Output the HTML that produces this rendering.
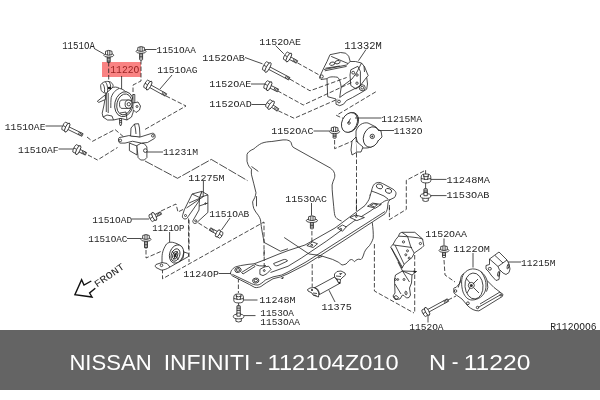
<!DOCTYPE html>
<html><head><meta charset="utf-8"><style>
html,body{margin:0;padding:0;background:#fff;}
body{width:600px;height:400px;overflow:hidden;position:relative;}
svg{position:absolute;left:0;top:0;will-change:transform;}
.s{fill:none;stroke:#1e1e1e;stroke-width:0.8;stroke-linejoin:round;}
.f{fill:#fff;}
.d{fill:none;stroke:#1e1e1e;stroke-width:0.8;stroke-dasharray:4.5 2;}
.dl{fill:none;stroke:#1e1e1e;stroke-width:0.8;stroke-dasharray:9 1.6;}
text{font-family:"Liberation Mono",monospace;}
text.sans{font-family:"Liberation Sans",sans-serif;}
#bar{position:absolute;left:0;top:330px;width:600px;height:60px;background:#646464;}
#bar span{position:absolute;top:0;font-family:"Liberation Sans",sans-serif;color:#fff;font-size:22px;line-height:60px;white-space:pre;}
</style></head><body>
<svg width="600" height="330" viewBox="0 0 600 330">
<rect x="102" y="62" width="39" height="15" fill="#f98383"/>
<polyline class="d" points="108.7,62.0 108.7,82.0"/>
<polyline class="d" points="141.0,60.0 141.0,81.0 133.0,85.0 133.0,96.0"/>
<polyline class="d" points="166.0,96.0 186.0,106.0 144.0,130.0"/>
<polyline class="d" points="87.0,137.0 92.5,141.3 115.0,129.5 125.0,138.0"/>
<polyline class="d" points="88.0,155.0 97.5,160.0 117.5,147.5"/>
<polyline class="d" points="375.8,91.8 336.4,115.4 344.3,118.9"/>
<polyline class="d" points="334.6,140.0 334.6,148.7 353.0,140.8"/>
<polyline class="d" points="356.5,153.0 356.5,211.0"/>
<polyline class="d" points="424.0,171.0 406.3,180.3 406.3,209.4 389.4,219.7 389.4,207.5"/>
<polyline class="d" points="161.0,211.0 176.0,204.0 178.0,212.0 184.0,209.0"/>
<polyline class="d" points="146.0,250.0 146.0,258.0 162.0,251.0"/>
<polyline class="d" points="189.0,220.0 189.0,262.0"/>
<polyline class="d" points="162.5,268.8 162.5,278.8 264.0,222.0 264.0,256.0"/>
<polyline class="d" points="188.6,218.5 188.6,250.0"/>
<polyline class="d" points="198.3,222.9 212.3,231.7"/>
<polyline class="d" points="238.4,278.0 238.4,293.0"/>
<polyline class="d" points="312.2,264.0 312.2,287.0"/>
<polyline class="d" points="374.4,244.0 374.4,291.0 414.0,313.0"/>
<polyline class="d" points="414.7,255.0 414.7,312.0"/>
<polyline class="d" points="444.0,260.0 445.0,275.0 455.0,282.0"/>
<polyline class="d" points="448.0,300.0 456.0,296.0"/>
<path class="s" d="M247,161.3 L247,154.5 C247.5,152.5 250,150.5 253.8,148.9 C256,147 259,144.5 261.6,143.3 C265,142 268,141.7 271.8,141.5 L283,139.9 L286.4,139.9 C288.5,140.3 290.2,141 290.9,142.1 L292,145.5 L293.2,147.3 L330.3,168 C332.3,169.5 333.8,171 334.5,173.5 C335,175.5 334.8,177 334.3,178.5 C333.5,180.5 332.5,182.5 332.1,184.9 C332,188 332.3,191.5 332.6,195 L333.7,206.3 C334,210 334.3,213 334.8,215.3 C335.3,216.8 336,218 337.1,218.7 C338.5,219.8 340,220.5 341.6,221"/>
<path class="s" d="M247,161.3 C247.5,163.5 248.3,165.5 249.3,166.9 L251.5,169.2 C251.3,171 251.2,173 251.5,174.8 L253.8,183.8 L256,192.8 C255.7,194.5 255.4,196 254.9,197.3 L252.6,201.8 C252.8,204.5 253.2,206.7 253.8,208.6 C255,211 256.5,213.2 258.3,215.3 C259.3,216.8 260,218.3 260.5,219.8 C261,225 262,232 264.25,242.5 L280.5,251.25 L288,248.75"/>
<path class="s" d="M251.5,166.5 L258.3,171.4"/>
<path class="s" d="M256.5,196.2 L256.5,206.3"/>
<path class="dl" d="M145,161 L177.5,178.3 L211.25,159.4 L247.5,180.6"/>
<path class="s" d="M369.4,195 C372,197 374,198.5 377,199.7"/>
<path class="s" d="M372.2,222.2 C373,228 373.5,234 373.2,238.2 C372,242 370.5,244 369.4,245.7 C366,249 364.5,251 363.5,255 C362.5,258 361.5,259.5 360.5,259.5 C358,258.5 356,260 354.5,261.7 C353,260 352,259.5 351.5,259.5 C349,259.5 348,262.5 347,263 L346,264 C344.5,264.5 343,265 342,265 C340,263.5 339,262.5 338,262 L332.5,259.4 L322.5,256.25 L318,258"/>
<path class="s f" d="M230.5,273.1 C231,271 231.5,270 232.4,269.4 C233.5,268 234.5,267.3 235.5,266.9 L240.5,265.6 L248,264.4 L254.25,263.75 L264.25,260 L278,254.4 L288,250.6 L305,245 L335,228 L351,216 L365,205.5 C367.5,202 369,200 369.5,198 L371.5,191 C372.3,187.5 373,185.5 374.5,184 C376,182.8 378,182.2 380,182.5 L382.5,183.5 L393,189.2 C395,190.6 396.2,192.2 396,193.7 C395.8,195.5 395,196.8 394.5,197.5 L390,199.7 C389,200.8 388.2,202 388,203 L387.5,208 C387,210.5 386.2,212.3 385,213.75 L372.5,221.9 L340,243.1 L306.25,264.4 L288,273.75 L280.5,276.9 L273,278.75 L266.75,282.5 L263,285 C261.5,286.3 260,287.1 258.6,287.25 C257.3,287.6 256,287.7 254.9,287.5 L249.25,284.4 L240.5,280 L233,276.25 C231.5,275.3 230.6,274.3 230.5,273.1 Z"/>
<path class="s" d="M232.4,274.4 L249.25,282.5 C252,284 255,285.3 258,285 C260.5,284.5 263,282 265.5,280 L273,276.9 L281.75,275 L288,272 L306,262 L372.5,219.5 L385,211.5"/>
<path class="s" d="M254.25,263.75 C257,266 262,266.5 266,265.5"/>
<path class="s" d="M270.5,272.5 L288,266.25 L301.25,258.1 L326.25,241.25 L353.75,221.25 L370,211.25 L382.5,202.5 C385,200.5 387.5,200 390,199.7"/>
<path class="s" d="M371.5,191 L377,193 L384,196 L388,199"/>
<ellipse class="s f" cx="238" cy="270" rx="3.2" ry="2.5" transform="rotate(-10 238 270)"/>
<ellipse class="s" cx="238" cy="270" rx="1.8" ry="1.3" transform="rotate(-10 238 270)"/>
<ellipse class="s f" cx="255.75" cy="280.6" rx="3.2" ry="2.5" transform="rotate(-10 255.75 280.6)"/>
<ellipse class="s" cx="255.75" cy="280.6" rx="1.8" ry="1.3" transform="rotate(-10 255.75 280.6)"/>
<path class="s f" d="M241.5,272.5 L253.5,265 L255,266.5 L243,274 Z"/>
<path class="s f" d="M259.9,269.4 L264.25,266.9 L268.6,266.25 L271.1,269.4 L266.75,273.75 L263,275.6 L259.9,274.4 Z"/>
<circle class="s f" cx="264.25" cy="270.6" r="0.9"/>
<path class="s f" d="M273.6,263.5 L283,259.8 C285,259 287,259.5 287.5,261 L278,265.5 C276,266.3 274,265.5 273.6,263.5 Z"/>
<path class="s f" d="M306.9,245.6 L312.5,241.9 L317.5,243.75 L313.1,247.5 Z"/>
<circle class="s f" cx="311.7" cy="245.3" r="0.9"/>
<path class="s f" d="M337.5,228.1 L342.5,225 L346.25,226.9 L342.5,231.25 Z"/>
<circle class="s f" cx="340.8" cy="229.2" r="0.9"/>
<path class="s f" d="M350,217.5 L355.6,215 L364.4,217.5 L356.9,220.6 Z"/>
<circle class="s f" cx="356.25" cy="216.5" r="0.9"/>
<path class="s f" d="M367.5,206.25 L372.5,203.1 L381.25,204.4 L375.6,208.1 Z"/>
<path class="s f" d="M370.5,205.6 L373.5,203.8 L377.5,204.6 L374.6,206.8 Z"/>
<ellipse class="s f" cx="379.5" cy="186.4" rx="3.2" ry="2.3" transform="rotate(20 379.5 186.4)"/>
<ellipse class="s f" cx="388.5" cy="190.9" rx="3.2" ry="2.3" transform="rotate(20 388.5 190.9)"/>
<path class="s" d="M284.2,237.5 L298.5,247 L309,254 L318.3,255.2 L322.5,256.25"/>
<path d="M280.5,278.3 L283.8,276.8 L283,279 Z" fill="#1e1e1e"/>
<path class="s f" d="M106,93 L111,88 C114,86.8 117,86.6 119.8,88.5 C122,89 124,90 125.5,91.5 L130,94.5 C132.5,97 134,101 133.8,106 L133.2,112 L131.5,117 L127,120 L122.5,118.8 L120.2,118.5 L113.5,120 L107.5,120 L103,117 L102.2,113.2 L104,105 Z"/>
<path class="s" d="M119,88.5 C116,90 113,92 111.2,97.5 C110.8,101 110.8,104 110.8,108"/>
<path class="s" d="M106.3,93 L106.3,112 M108.2,93 L108.2,113"/>
<ellipse class="s f" cx="124" cy="104.2" rx="9.2" ry="12.6" transform="rotate(12 124 104.2)"/>
<ellipse class="s" cx="124.3" cy="104.4" rx="7.4" ry="10.6" transform="rotate(12 124.3 104.4)"/>
<path class="s f" d="M122,100 L128.5,100 A3.6,4.2 0 0 1 128.5,108.4 L122,108.4 A2.5,4.2 0 0 1 122,100 Z"/>
<ellipse class="s f" cx="128.5" cy="104.2" rx="3.4" ry="4.1" transform="rotate(0 128.5 104.2)"/>
<circle class="s f" cx="128.8" cy="104.2" r="1.7"/>
<path class="s" d="M103,117 L107,115 L112,116 L113.5,120 M120,113 L126,112 L127,120"/>
<path class="s f" d="M119.6,118.5 L119.6,124 L120.6,126 L121.6,124 L121.6,118.5 Z"/>
<path class="s" d="M119.6,120.5 L121.6,120.5 M119.6,122.3 L121.6,122.3"/>
<path class="s f" d="M100.6,85.5 C101,84 101.5,83.5 102.5,82.9 C104,81.8 106,81.3 107.8,81.4 C110,81.5 111.5,82.3 111.9,83.3 C113,84.5 113.3,85.5 113,86.3 C112.8,87 112.5,87.7 111.9,88.2 L106.3,93 C104.5,93 103,92.6 102.5,91.9 C101.5,91 101,90 101,89.3 Z"/>
<path class="s" d="M102.5,83.5 C104,85 105,88 104.5,92 M105.5,82 C107,84 108,87 107.5,92.5 M108.8,81.6 C110.5,83.5 111,86 110.5,89.5"/>
<ellipse cx="109.5" cy="88" rx="1.8" ry="1.3" fill="#1e1e1e"/>
<path class="s f" d="M97.3,101.3 L105.2,94.9 L105.5,99.4 L98.8,102.4 Z"/>
<path class="s f" d="M133,94.5 L134.8,94.5 L134.8,103 L133,103 Z"/>
<path class="s f" d="M133.5,103 L138,102 L140.5,106 L139.5,110 L136,112.5 L133.5,110"/>
<circle class="s" cx="137" cy="106.5" r="1"/>
<path class="s f" d="M129.4,143.1 L129.4,150.6 L137,155 L137,146 Z"/>
<path class="s f" d="M136.9,145.6 L138.1,157.5 L140.6,160 L144.4,160 L146.9,157.5 L146.9,146.9 L144.4,143.75 L141.25,143.1 Z"/>
<circle class="s f" cx="145.3" cy="150.6" r="1.8"/>
<path class="s f" d="M118.5,140 C118,138 119.5,137 121,137.3 L128.75,135.6 L140.6,136.9 L151.25,133.5 C153,132.8 155,133.5 155,135.6 C155.5,137 154.8,138.2 154.4,138.5 L147.5,142.5 L141.25,143.1 L132.5,141.25 L125,143.1 L120,143.1 C118.8,142.5 118.4,141.2 118.5,140 Z"/>
<circle class="s" cx="120.3" cy="140.4" r="1.3"/>
<circle class="s" cx="152.8" cy="135.8" r="1.3"/>
<path class="s f" d="M130.6,136 L131,128 L134.5,124 L138.5,123.7 L139.5,128 L140,137 Z"/>
<path class="s" d="M134.5,124 L135.5,129 L136,134"/>
<path class="s f" d="M330,54.7 L340.5,52.5 L345.7,53.2 L348.7,56.2 L350.2,61.5 L355.5,61.5 L361.5,63 L364.5,66.7 L366.7,72 L368.2,75.7 L366.7,77.2 L367.5,84 L366.7,89.2 L363,91.5 L352.5,97.5 L346.5,100.5 L343.5,104.2 L339.7,105.7 L336,104.2 L336,99 L327.7,96.7 L327,78.7 L321,79.5 L319.5,78 L320.2,75.7 L324,67.5 L327,61.5 Z"/>
<path class="s" d="M324,69.5 L346.6,65 L350.2,61.5"/>
<path class="s" d="M324.8,70.8 L346.6,66.4"/>
<path class="s" d="M325.5,68.2 L339.8,66"/>
<path class="s" d="M331.2,56.4 L348,63.5"/>
<path class="s" d="M327,78.7 C329,76.8 331.5,76.5 337.5,77.2 C339.5,79 340.5,82 341.2,87 L339.7,97.5"/>
<path class="s" d="M341.2,87 L352,79 L357,72 L361.5,63"/>
<path class="s" d="M339.7,97.5 L346,93 L360,86 L366.7,77.2"/>
<ellipse class="s" cx="332.2" cy="63.7" rx="2.6" ry="1.6" transform="rotate(-15 332.2 63.7)"/>
<ellipse class="s" cx="337.5" cy="62.2" rx="2.6" ry="1.6" transform="rotate(-15 337.5 62.2)"/>
<circle class="s" cx="321.7" cy="76.5" r="1.6"/>
<circle class="s" cx="353.2" cy="72.7" r="1.4"/>
<circle class="s" cx="357" cy="75" r="1.2"/>
<circle class="s" cx="357" cy="83.2" r="1.2"/>
<circle class="s" cx="362.2" cy="87.7" r="3"/>
<circle class="s" cx="362.2" cy="87.7" r="1.4"/>
<circle class="s" cx="339" cy="101.5" r="1.4"/>
<path class="s" d="M364,66 L364.5,72"/>
<path class="s" d="M350.8,69.8 L357.8,66.3 L360.4,71.5 L360.4,85.5 L356,89 L350.8,85.5 L350,75 Z"/>
<ellipse class="s f" cx="350.5" cy="122.3" rx="7.5" ry="10.3" transform="rotate(25 350.5 122.3)"/>
<ellipse class="s f" cx="349.5" cy="122.5" rx="7.5" ry="10.3" transform="rotate(25 349.5 122.5)"/>
<circle class="s" cx="349" cy="123" r="1.3"/>
<path class="s" d="M348,123 L350.5,118.5"/>
<path class="s f" d="M356,131 C358,125 363,122 368,123 L376,127 C379,130 380,135 378,140 C376,145 371,148 366,148 L362,148 C359,146 357,142 356,137 Z"/>
<ellipse class="s f" cx="371.4" cy="137" rx="7.8" ry="10.5" transform="rotate(20 371.4 137)"/>
<circle class="s" cx="372.3" cy="136.4" r="2.2"/>
<circle cx="372.3" cy="136.4" r="1" fill="#333"/>
<path class="s f" d="M377,129 L381,131 L382,137 L378,141"/>
<path class="s f" d="M352,141 L356,137 L357,152 L352,155 L351,150 Z"/>
<path class="s f" d="M356,141 L363,147 L361,152 L357,152"/>
<path class="s f" d="M201.8,191.4 L207.9,194.9 L207.9,212.4 L196.5,222.9 C195.5,223.8 194,223.8 193.2,222.6 C192.6,221.6 192.8,220.8 193.3,220 L199,210 L199.5,197.5 Z"/>
<path class="s f" d="M192.1,194 L201.8,191.4 L199.5,197.5 L199,201 L188.2,216.5 C187.3,218.6 185.5,219.6 183.6,218.7 C182.3,217.8 182.1,216 182.8,214.5 L184.3,209.8 Z"/>
<path class="s" d="M192.1,194 L199.5,197.5 L207.9,194.9"/>
<path class="s" d="M186.5,208 L203.5,196.5 M189,203 L199.3,198.5 M199.3,206 L207.9,203"/>
<path class="s" d="M203.2,192.5 L203.2,196.5"/>
<circle class="s" cx="185.5" cy="215.5" r="1"/>
<circle class="s" cx="195.7" cy="220.8" r="1"/>
<circle class="s" cx="205.5" cy="203.5" r="0.7"/>
<path class="s f" d="M156,264.5 L162,262.5 L162,259 C162,254 162.5,250 166.5,244 C168,242.8 169.5,242.2 171,242.2 C173,242.2 176,243 179.5,245 L184,252 L188.5,253.5 L188.5,256.5 L170,267 C167,269 163,270.5 161,270 L156,267.5 C155,266.5 155,265.5 156,264.5 Z"/>
<ellipse class="s f" cx="176.5" cy="254" rx="6.8" ry="9.4" transform="rotate(20 176.5 254)"/>
<ellipse class="s" cx="175.5" cy="255" rx="4.2" ry="6.4" transform="rotate(20 175.5 255)"/>
<ellipse class="s" cx="175.2" cy="255.3" rx="2.4" ry="4" transform="rotate(20 175.2 255.3)"/>
<ellipse cx="175.2" cy="255.3" rx="1.2" ry="2.4" transform="rotate(20 175.2 255.3)" fill="#333"/>
<path class="s" d="M172,251 L178.5,259.5 M173.5,259.5 L177.5,251"/>
<path class="s" d="M162,262.5 L167,263.5 L170,267"/>
<circle class="s" cx="161.5" cy="265.3" r="1.3"/>
<path class="s" d="M179,262 L183,258.5 L184,252"/>
<path class="s f" d="M315,287.5 L334.5,277 L339.5,283.5 L319.5,294.5 Z"/>
<path class="s f" d="M307.5,289.5 L310,288 L314,287.5 L317.5,289 L319,292 L318.5,297 L317,296.5 L313,295 L312,293 L308,291 Z"/>
<path class="s" d="M314,287.5 C316.5,288.5 318.5,291 319.5,294.5"/>
<path class="s" d="M313,293 L317,293.5 M313.5,295 L316.5,295.5"/>
<circle cx="312" cy="290" r="1" fill="#1e1e1e"/>
<path class="s f" d="M334.5,274 L337,271.5 L341,271 L345,273 L345.5,275 L343,277 L340.5,279.5 L340,283.5 L338.5,283 L337,279 L334.5,277 Z"/>
<path class="s" d="M337,279 L340.5,279.5 M336,276 L341,276.5"/>
<path d="M339,273.5 L342.5,273 L340.5,275 Z" fill="#1e1e1e"/>
<circle cx="339.5" cy="283" r="0.9" fill="#1e1e1e"/>
<path class="s f" d="M399.6,233.4 L401.9,232.3 L414.8,232.3 L422.6,239 L423.8,245.8 L422.1,247.5 L414.2,253.1 L412,257.6 L409.2,259.8 L404.1,264.3 L401.9,268.3 L390.6,246.9 L392.9,244.7 L395.7,239.6 L398.5,236.2 Z"/>
<path class="s" d="M392.9,244.7 L395.1,245.2 L412,247.5"/>
<path class="s" d="M398.5,236.2 L409.7,236.8 L418.7,237.9 L422.6,239"/>
<path class="s" d="M401.9,232.3 L407.5,236.2 L410.8,246.9 L414.2,253.1"/>
<path class="s" d="M395.1,245.2 L404.1,264.3"/>
<path class="s" d="M391.5,248 L402.5,267.5"/>
<circle class="s" cx="403.5" cy="241.9" r="1.1"/>
<circle class="s" cx="420.4" cy="243.5" r="1.1"/>
<circle class="s" cx="407.5" cy="250.8" r="1"/>
<circle class="s" cx="405.8" cy="254.8" r="1"/>
<circle class="s" cx="409.2" cy="258.1" r="1"/>
<path class="s f" d="M395.5,275 L402.5,271 L416.5,271.5 L412,275 L411.5,283 L409.5,288 L410.5,295 L409,297.5 L406.5,298 L404,295.5 L402.5,295 L400,299 L395,299.5 L393,296 L395,293 L394.5,279.5 Z"/>
<path class="s" d="M402.5,271 L412,275 M402.5,271 L409.5,282 M395,284 L401,294"/>
<path d="M413.5,270.5 L416.8,271.5 L413.8,273.2 Z" fill="#1e1e1e"/>
<circle class="s" cx="395.5" cy="279.5" r="0.9"/>
<circle class="s" cx="397.8" cy="279.5" r="0.9"/>
<circle class="s" cx="404" cy="279.5" r="1"/>
<ellipse class="s" cx="406" cy="293" rx="1" ry="1.8" transform="rotate(-10 406 293)"/>
<path class="s" d="M393.5,297 L396,295.5 L398.5,297.5 L397,299.5 Z"/>
<path class="s" d="M398,262 L402.5,271"/>
<path class="s f" d="M454,290 C453,288.5 454,287.5 456,287.5 L460,283 L461,277 C462,274.5 463,274 463.75,273.75 C466,271 469,269 472.7,268.9 C476,268.9 479,270 481,271.7 C484,274 486,277 487.1,280.6 L494,287.5 L503,294.4 L502.3,296.5 L478.9,310.9 C475,311 471,309 467.9,306 L462,299 L455,294 C453.5,293 453.5,291.5 454,290 Z"/>
<path class="s" d="M463.75,273.75 C461,278 461,285 463,292 C465,297 468,300 472,300 C478,300 484,296 485.5,290 C487,283 485,277 481,271.7"/>
<ellipse class="s" cx="474" cy="286" rx="9" ry="13" transform="rotate(-5 474 286)"/>
<circle class="s f" cx="471.3" cy="285.4" r="3"/>
<circle cx="471.3" cy="285.4" r="1.5" fill="#333"/>
<path class="s" d="M466,278 L470,283 M478,279 L473,284 M467,293 L470,288 M479,293 L474,288"/>
<path class="s" d="M487.1,280.6 L487.8,287.5 L486.5,291.6"/>
<path class="s" d="M480,304 L500,292 M478,307.5 L500.5,294.8"/>
<circle class="s" cx="455.5" cy="291" r="1.3"/>
<circle class="s" cx="467.9" cy="303.3" r="1.4"/>
<circle class="s" cx="477.5" cy="307.5" r="1.2"/>
<circle class="s" cx="500.9" cy="295" r="1"/>
<path class="s" d="M460.3,280.6 L458.25,287.5"/>
<path class="s f" d="M489.5,259 L499,252 L507,260 L509,264 L510,269 L509,272.5 L506,274.5 L503,273 L500,270 L499.5,275 L499,279.5 L496,280.5 L491,275 L489,272 L486,269 L486,265.5 L489.5,264.5 Z"/>
<path class="s" d="M489.5,259 L498,266.5 L507,260"/>
<path class="s" d="M495,255.5 L503,263"/>
<path class="s" d="M498,266.5 L499.5,270"/>
<ellipse class="s" cx="489.8" cy="268.8" rx="1.6" ry="1.4" transform="rotate(0 489.8 268.8)"/>
<ellipse class="s" cx="498.5" cy="274" rx="0.8" ry="2.5" transform="rotate(10 498.5 274)"/>
<ellipse class="s" cx="508" cy="266.5" rx="0.8" ry="2.5" transform="rotate(10 508 266.5)"/>
<polyline points="91.3,281 84,285 81.6,279.7 74.9,294.7 92,297 89.6,293 95.3,288.3" fill="none" stroke="#111" stroke-width="1.4" stroke-linejoin="miter"/>
<polyline class="d" points="297.5,62.9 319.4,75.1"/>
<polyline class="d" points="290.0,79.2 310.0,90.8 346.7,77.5"/>
<polyline class="d" points="277.5,90.8 303.3,105.0 353.3,81.7"/>
<polyline class="d" points="278.3,110.8 294.2,118.3 338.0,99.0"/>
<polyline class="d" points="264.2,250.0 264.2,270.0"/>
<polyline class="d" points="311.9,231.0 311.9,245.0"/>
<polyline class="d" points="356.4,200.0 356.4,216.0"/>
<polyline class="d" points="389.4,205.0 389.4,212.0"/>
<polyline class="s" points="94.5,48.7 104.0,54.0"/>
<polyline class="s" points="145.0,49.5 156.5,49.5"/>
<polyline class="s" points="160.0,89.0 172.0,75.0"/>
<polyline class="s" points="45.5,126.0 62.0,126.0"/>
<polyline class="s" points="58.5,149.0 74.0,149.0"/>
<polyline class="s" points="146.4,152.0 163.0,152.0"/>
<polyline class="s" points="275.6,45.6 283.8,53.8"/>
<polyline class="s" points="245.0,57.5 255.0,61.2 262.5,63.8"/>
<polyline class="s" points="251.0,84.0 265.0,84.0"/>
<polyline class="s" points="251.5,104.5 267.0,104.5"/>
<polyline class="s" points="366.0,49.5 358.5,60.7"/>
<polyline class="s" points="313.5,131.0 330.0,131.0"/>
<polyline class="s" points="355.0,118.0 381.5,118.0"/>
<polyline class="s" points="378.0,130.5 394.0,130.5"/>
<polyline class="s" points="430.9,179.4 446.5,179.4"/>
<polyline class="s" points="425.6,183.0 425.6,188.6"/>
<polyline class="s" points="425.6,170.2 425.6,174.0"/>
<polyline class="s" points="238.6,303.0 238.6,305.5"/>
<polyline class="s" points="431.0,195.6 446.5,195.6"/>
<polyline class="s" points="203.4,181.0 203.4,192.3"/>
<polyline class="s" points="311.5,203.0 311.5,215.5"/>
<polyline class="s" points="131.6,219.0 149.0,219.0"/>
<polyline class="s" points="230.0,218.0 221.5,230.0"/>
<polyline class="s" points="169.6,232.0 169.6,242.0"/>
<polyline class="s" points="127.0,238.5 141.0,238.5"/>
<polyline class="s" points="218.8,273.5 231.0,273.5"/>
<polyline class="s" points="243.0,300.0 257.5,300.0"/>
<polyline class="s" points="244.0,315.6 255.5,315.6"/>
<polyline class="s" points="335.0,302.0 329.0,290.2"/>
<polyline class="s" points="444.0,238.5 444.0,245.0"/>
<polyline class="s" points="473.0,253.0 473.0,267.5"/>
<polyline class="s" points="508.0,262.0 521.0,262.0"/>
<polyline class="s" points="428.0,316.0 428.0,322.5"/>
<polyline class="s" points="121.6,76.0 121.6,89.0"/>
<rect class="s f" x="107.2" y="54.6" width="3" height="7.9" rx="0.6"/><line class="s" x1="107.2" y1="57.2" x2="110.2" y2="57.2"/><line class="s" x1="107.2" y1="58.7" x2="110.2" y2="58.7"/><line class="s" x1="107.2" y1="60.2" x2="110.2" y2="60.2"/><line class="s" x1="107.2" y1="61.7" x2="110.2" y2="61.7"/><ellipse class="s f" cx="108.75" cy="55.2" rx="5" ry="1.9"/><path class="s f" d="M105.5,54.6 L105.5,51.3 Q108.8,49.4 112.0,51.3 L112.0,54.6 Q108.8,55.8 105.5,54.6 Z"/><path class="s" d="M107.7,50.6 L107.7,55.2 M109.8,50.6 L109.8,55.2"/>
<rect class="s f" x="139.6" y="50.8" width="3" height="9.2" rx="0.6"/><line class="s" x1="139.6" y1="53.4" x2="142.6" y2="53.4"/><line class="s" x1="139.6" y1="54.9" x2="142.6" y2="54.9"/><line class="s" x1="139.6" y1="56.4" x2="142.6" y2="56.4"/><line class="s" x1="139.6" y1="57.9" x2="142.6" y2="57.9"/><ellipse class="s f" cx="141.1" cy="51.4" rx="5" ry="1.9"/><path class="s f" d="M137.8,50.8 L137.8,47.5 Q141.1,45.6 144.4,47.5 L144.4,50.8 Q141.1,52.0 137.8,50.8 Z"/><path class="s" d="M140.0,46.8 L140.0,51.4 M142.2,46.8 L142.2,51.4"/>
<polygon class="s f" points="149.1,87.2 165.3,96.2 166.7,93.8 150.4,84.7"/>
<line class="s" x1="164.4" y1="95.7" x2="165.8" y2="93.3"/>
<line class="s" x1="163.1" y1="95.0" x2="164.5" y2="92.6"/>
<line class="s" x1="161.8" y1="94.3" x2="163.2" y2="91.8"/>
<polygon class="s f" points="144.0,85.1 143.7,87.3 147.2,89.3 151.2,82.1 147.6,80.1 146.0,81.6"/>
<line class="s" x1="145.0" y1="83.3" x2="147.8" y2="84.9"/>
<ellipse class="s f" cx="149.1" cy="85.6" rx="1.7" ry="5.0" transform="rotate(29.1 149.1 85.6)"/>
<polygon class="s f" points="67.2,129.1 81.9,136.3 83.1,133.7 68.4,126.6"/>
<line class="s" x1="81.0" y1="135.8" x2="82.2" y2="133.3"/>
<line class="s" x1="79.6" y1="135.2" x2="80.9" y2="132.6"/>
<line class="s" x1="78.3" y1="134.5" x2="79.5" y2="132.0"/>
<polygon class="s f" points="62.0,127.4 61.8,129.5 65.5,131.3 69.0,123.9 65.4,122.1 63.8,123.7"/>
<line class="s" x1="62.9" y1="125.5" x2="65.7" y2="126.9"/>
<ellipse class="s f" cx="67.2" cy="127.6" rx="1.7" ry="5.0" transform="rotate(25.9 67.2 127.6)"/>
<polygon class="s f" points="78.2,151.6 85.4,155.1 86.6,152.5 79.4,149.1"/>
<line class="s" x1="84.5" y1="154.6" x2="85.7" y2="152.1"/>
<line class="s" x1="83.1" y1="154.0" x2="84.3" y2="151.5"/>
<line class="s" x1="81.8" y1="153.3" x2="83.0" y2="150.8"/>
<polygon class="s f" points="73.0,149.9 72.8,152.0 76.5,153.8 80.0,146.4 76.3,144.6 74.8,146.2"/>
<line class="s" x1="73.9" y1="148.0" x2="76.7" y2="149.4"/>
<ellipse class="s f" cx="78.2" cy="150.1" rx="1.7" ry="5.0" transform="rotate(25.5 78.2 150.1)"/>
<polygon class="s f" points="288.8,59.1 296.3,63.2 297.7,60.8 290.1,56.6"/>
<line class="s" x1="295.5" y1="62.7" x2="296.8" y2="60.3"/>
<line class="s" x1="294.1" y1="62.0" x2="295.5" y2="59.6"/>
<line class="s" x1="292.8" y1="61.3" x2="294.2" y2="58.8"/>
<polygon class="s f" points="283.7,57.1 283.4,59.2 287.0,61.2 290.9,54.0 287.3,52.0 285.7,53.5"/>
<line class="s" x1="284.7" y1="55.3" x2="287.5" y2="56.8"/>
<ellipse class="s f" cx="288.8" cy="57.5" rx="1.7" ry="5.0" transform="rotate(28.7 288.8 57.5)"/>
<polygon class="s f" points="268.0,69.0 288.8,80.0 290.0,77.6 269.3,66.6"/>
<line class="s" x1="287.9" y1="79.5" x2="289.1" y2="77.1"/>
<line class="s" x1="286.6" y1="78.8" x2="287.8" y2="76.4"/>
<line class="s" x1="285.2" y1="78.1" x2="286.5" y2="75.7"/>
<polygon class="s f" points="262.8,67.3 262.4,69.6 266.0,71.5 270.2,63.6 266.6,61.7 264.9,63.3"/>
<line class="s" x1="263.9" y1="65.3" x2="266.7" y2="66.8"/>
<ellipse class="s f" cx="268.0" cy="67.5" rx="1.7" ry="5.5" transform="rotate(27.9 268.0 67.5)"/>
<polygon class="s f" points="269.2,87.7 277.4,91.8 278.6,89.2 270.4,85.2"/>
<line class="s" x1="276.5" y1="91.3" x2="277.7" y2="88.8"/>
<line class="s" x1="275.1" y1="90.7" x2="276.4" y2="88.1"/>
<line class="s" x1="273.8" y1="90.0" x2="275.0" y2="87.5"/>
<polygon class="s f" points="264.0,85.9 263.8,88.1 267.5,89.9 271.1,82.5 267.4,80.7 265.8,82.3"/>
<line class="s" x1="264.9" y1="84.1" x2="267.7" y2="85.5"/>
<ellipse class="s f" cx="269.2" cy="86.2" rx="1.7" ry="5.0" transform="rotate(26.1 269.2 86.2)"/>
<polygon class="s f" points="270.9,106.8 277.2,111.2 278.8,108.8 272.4,104.5"/>
<line class="s" x1="276.4" y1="110.6" x2="278.0" y2="108.3"/>
<line class="s" x1="275.1" y1="109.7" x2="276.7" y2="107.4"/>
<line class="s" x1="273.9" y1="108.9" x2="275.5" y2="106.6"/>
<polygon class="s f" points="266.0,104.3 265.5,106.4 268.8,108.7 273.5,101.9 270.1,99.6 268.4,100.9"/>
<line class="s" x1="267.2" y1="102.6" x2="269.8" y2="104.3"/>
<ellipse class="s f" cx="271.1" cy="105.2" rx="1.7" ry="5.0" transform="rotate(34.5 271.1 105.2)"/>
<rect class="s f" x="333.1" y="131.1" width="3" height="7.1" rx="0.6"/><line class="s" x1="333.1" y1="133.7" x2="336.1" y2="133.7"/><line class="s" x1="333.1" y1="135.2" x2="336.1" y2="135.2"/><line class="s" x1="333.1" y1="136.7" x2="336.1" y2="136.7"/><ellipse class="s f" cx="334.6" cy="131.7" rx="5" ry="1.9"/><path class="s f" d="M331.3,131.1 L331.3,127.8 Q334.6,125.9 337.9,127.8 L337.9,131.1 Q334.6,132.3 331.3,131.1 Z"/><path class="s" d="M333.5,127.1 L333.5,131.7 M335.7,127.1 L335.7,131.7"/>
<rect class="s f" x="310.4" y="220.0" width="3" height="8.8" rx="0.6"/><line class="s" x1="310.4" y1="222.6" x2="313.4" y2="222.6"/><line class="s" x1="310.4" y1="224.1" x2="313.4" y2="224.1"/><line class="s" x1="310.4" y1="225.6" x2="313.4" y2="225.6"/><line class="s" x1="310.4" y1="227.1" x2="313.4" y2="227.1"/><ellipse class="s f" cx="311.9" cy="220.6" rx="5.6" ry="1.9"/><path class="s f" d="M308.6,220.0 L308.6,216.7 Q311.9,214.8 315.2,216.7 L315.2,220.0 Q311.9,221.2 308.6,220.0 Z"/><path class="s" d="M310.8,216.0 L310.8,220.6 M313.0,216.0 L313.0,220.6"/>
<polygon class="s f" points="155.4,217.3 161.6,214.2 160.4,211.8 154.2,214.9"/>
<line class="s" x1="160.7" y1="214.7" x2="159.5" y2="212.2"/>
<line class="s" x1="159.4" y1="215.3" x2="158.2" y2="212.9"/>
<line class="s" x1="158.0" y1="216.0" x2="156.8" y2="213.6"/>
<polygon class="s f" points="150.8,220.2 152.3,221.5 155.9,219.7 152.6,213.1 149.0,214.9 149.1,216.9"/>
<line class="s" x1="150.0" y1="218.5" x2="152.7" y2="217.1"/>
<ellipse class="s f" cx="154.2" cy="216.4" rx="1.7" ry="4.5" transform="rotate(-26.6 154.2 216.4)"/>
<rect class="s f" x="144.5" y="238.8" width="3" height="9.2" rx="0.6"/><line class="s" x1="144.5" y1="241.4" x2="147.5" y2="241.4"/><line class="s" x1="144.5" y1="242.9" x2="147.5" y2="242.9"/><line class="s" x1="144.5" y1="244.4" x2="147.5" y2="244.4"/><line class="s" x1="144.5" y1="245.9" x2="147.5" y2="245.9"/><line class="s" x1="144.5" y1="247.4" x2="147.5" y2="247.4"/><ellipse class="s f" cx="146" cy="239.4" rx="5" ry="1.9"/><path class="s f" d="M142.7,238.8 L142.7,235.5 Q146.0,233.6 149.3,235.5 L149.3,238.8 Q146.0,240.0 142.7,238.8 Z"/><path class="s" d="M144.9,234.8 L144.9,239.4 M147.1,234.8 L147.1,239.4"/>
<polygon class="s f" points="217.9,231.8 210.7,227.8 209.3,230.2 216.6,234.2"/>
<line class="s" x1="211.5" y1="228.3" x2="210.2" y2="230.7"/>
<line class="s" x1="212.8" y1="229.0" x2="211.5" y2="231.4"/>
<line class="s" x1="214.2" y1="229.8" x2="212.8" y2="232.1"/>
<polygon class="s f" points="222.8,234.2 222.9,232.4 219.4,230.5 216.2,236.2 219.7,238.2 221.2,237.1"/>
<line class="s" x1="222.0" y1="235.7" x2="219.2" y2="234.1"/>
<ellipse class="s f" cx="217.9" cy="233.4" rx="1.7" ry="4.0" transform="rotate(-150.9 217.9 233.4)"/>
<rect class="s f" x="442.5" y="249.9" width="3" height="7.6" rx="0.6"/><line class="s" x1="442.5" y1="252.5" x2="445.5" y2="252.5"/><line class="s" x1="442.5" y1="254.0" x2="445.5" y2="254.0"/><line class="s" x1="442.5" y1="255.5" x2="445.5" y2="255.5"/><ellipse class="s f" cx="444" cy="250.5" rx="5" ry="1.9"/><path class="s f" d="M440.7,249.9 L440.7,246.6 Q444.0,244.7 447.3,246.6 L447.3,249.9 Q444.0,251.1 440.7,249.9 Z"/><path class="s" d="M442.9,245.9 L442.9,250.5 M445.1,245.9 L445.1,250.5"/>
<polygon class="s f" points="428.4,312.3 448.7,301.2 447.3,298.8 427.1,309.8"/>
<line class="s" x1="447.8" y1="301.7" x2="446.5" y2="299.2"/>
<line class="s" x1="446.5" y1="302.4" x2="445.1" y2="300.0"/>
<line class="s" x1="445.2" y1="303.1" x2="443.8" y2="300.7"/>
<polygon class="s f" points="423.9,315.2 425.4,316.5 429.0,314.6 425.5,308.1 421.9,310.0 422.1,312.0"/>
<line class="s" x1="423.0" y1="313.6" x2="425.8" y2="312.1"/>
<ellipse class="s f" cx="427.1" cy="311.4" rx="1.7" ry="4.5" transform="rotate(-28.6 427.1 311.4)"/>
<rect class="s f" x="236.9" y="305.5" width="3.4" height="11.0" rx="0.8"/><line class="s" x1="236.9" y1="307.0" x2="240.3" y2="307.0"/><line class="s" x1="236.9" y1="308.8" x2="240.3" y2="308.8"/><line class="s" x1="236.9" y1="310.6" x2="240.3" y2="310.6"/><path class="s f" d="M235.9,318.0 L235.9,321.3 Q238.6,322.7 241.3,321.3 L241.3,318.0 Z"/><ellipse class="s f" cx="238.6" cy="316.5" rx="5.3" ry="2.4"/><rect class="s f" x="236.9" y="313.0" width="3.4" height="3.2"/>
<rect class="s f" x="423.9" y="188.6" width="3.4" height="7.4" rx="0.8"/><line class="s" x1="423.9" y1="190.1" x2="427.3" y2="190.1"/><line class="s" x1="423.9" y1="191.9" x2="427.3" y2="191.9"/><line class="s" x1="423.9" y1="193.7" x2="427.3" y2="193.7"/><path class="s f" d="M422.9,197.5 L422.9,200.8 Q425.6,202.2 428.3,200.8 L428.3,197.5 Z"/><ellipse class="s f" cx="425.6" cy="196" rx="5.3" ry="2.4"/><rect class="s f" x="423.9" y="192.5" width="3.4" height="3.2"/>
<path class="s f" d="M233.8,297.0 C233.8,294.3 236.1,294.0 238.6,294.0 C241.1,294.0 243.4,294.3 243.4,297.0 L243.4,300.5 C243.4,302.5 241.1,302.9 238.6,302.9 C236.1,302.9 233.8,302.5 233.8,300.5 Z"/><path class="s" d="M233.8,298.5 Q238.6,300.5 243.4,298.5 M236.1,294.2 L237.1,299.9 M241.1,294.2 L240.1,299.9 M235.6,296.0 Q238.6,297.5 241.6,296.0"/>
<path class="s f" d="M421.2,177.0 C421.2,174.3 423.5,174.0 426.0,174.0 C428.5,174.0 430.8,174.3 430.8,177.0 L430.8,180.5 C430.8,182.5 428.5,182.9 426.0,182.9 C423.5,182.9 421.2,182.5 421.2,180.5 Z"/><path class="s" d="M421.2,178.5 Q426.0,180.5 430.8,178.5 M423.5,174.2 L424.5,179.9 M428.5,174.2 L427.5,179.9 M423.0,176.0 Q426.0,177.5 429.0,176.0"/>
<text x="110.30" y="73.00" font-size="10.17" textLength="28.98" lengthAdjust="spacingAndGlyphs" fill="#9a2424" >1122O</text>
<text x="62.14" y="48.70" font-size="10.03" textLength="32.86" lengthAdjust="spacingAndGlyphs" fill="#262626" >1151OA</text>
<text x="156.52" y="53.20" font-size="9.59" textLength="39.28" lengthAdjust="spacingAndGlyphs" fill="#262626" >1151OAA</text>
<text x="157.31" y="73.20" font-size="9.74" textLength="40.28" lengthAdjust="spacingAndGlyphs" fill="#262626" >1151OAG</text>
<text x="4.80" y="130.00" font-size="9.74" textLength="40.71" lengthAdjust="spacingAndGlyphs" fill="#262626" >1151OAE</text>
<text x="18.10" y="152.50" font-size="9.74" textLength="40.58" lengthAdjust="spacingAndGlyphs" fill="#262626" >1151OAF</text>
<text x="162.90" y="155.40" font-size="9.88" textLength="35.12" lengthAdjust="spacingAndGlyphs" fill="#262626" >11231M</text>
<text x="259.28" y="44.80" font-size="9.45" textLength="41.74" lengthAdjust="spacingAndGlyphs" fill="#262626" >1152OAE</text>
<text x="202.27" y="61.00" font-size="9.74" textLength="42.61" lengthAdjust="spacingAndGlyphs" fill="#262626" >1152OAB</text>
<text x="209.28" y="87.20" font-size="9.74" textLength="42.05" lengthAdjust="spacingAndGlyphs" fill="#262626" >1152OAE</text>
<text x="209.27" y="107.30" font-size="9.88" textLength="42.44" lengthAdjust="spacingAndGlyphs" fill="#262626" >1152OAD</text>
<text x="344.24" y="48.50" font-size="10.17" textLength="37.62" lengthAdjust="spacingAndGlyphs" fill="#262626" >11332M</text>
<text x="271.27" y="134.30" font-size="9.88" textLength="42.15" lengthAdjust="spacingAndGlyphs" fill="#262626" >1152OAC</text>
<text x="381.30" y="122.20" font-size="9.74" textLength="40.70" lengthAdjust="spacingAndGlyphs" fill="#262626" >11215MA</text>
<text x="393.81" y="134.20" font-size="9.74" textLength="28.67" lengthAdjust="spacingAndGlyphs" fill="#262626" >1132O</text>
<text x="446.45" y="182.80" font-size="9.59" textLength="43.55" lengthAdjust="spacingAndGlyphs" fill="#262626" >11248MA</text>
<text x="446.46" y="198.20" font-size="9.59" textLength="43.03" lengthAdjust="spacingAndGlyphs" fill="#262626" >1153OAB</text>
<text x="188.27" y="180.50" font-size="9.74" textLength="36.37" lengthAdjust="spacingAndGlyphs" fill="#262626" >11275M</text>
<text x="285.18" y="202.40" font-size="9.74" textLength="41.95" lengthAdjust="spacingAndGlyphs" fill="#262626" >1153OAC</text>
<text x="92.32" y="222.70" font-size="9.74" textLength="39.76" lengthAdjust="spacingAndGlyphs" fill="#262626" >1151OAD</text>
<text x="209.31" y="217.00" font-size="9.88" textLength="40.05" lengthAdjust="spacingAndGlyphs" fill="#262626" >1151OAB</text>
<text x="152.36" y="231.40" font-size="9.88" textLength="32.12" lengthAdjust="spacingAndGlyphs" fill="#262626" >1121OP</text>
<text x="88.33" y="242.10" font-size="9.74" textLength="39.07" lengthAdjust="spacingAndGlyphs" fill="#262626" >1151OAC</text>
<text x="183.28" y="276.80" font-size="9.88" textLength="35.65" lengthAdjust="spacingAndGlyphs" fill="#262626" >1124OP</text>
<text x="259.27" y="303.10" font-size="9.74" textLength="36.37" lengthAdjust="spacingAndGlyphs" fill="#262626" >11248M</text>
<text x="260.32" y="316.30" font-size="9.74" textLength="33.68" lengthAdjust="spacingAndGlyphs" fill="#262626" >1153OA</text>
<text x="260.32" y="324.60" font-size="9.59" textLength="39.69" lengthAdjust="spacingAndGlyphs" fill="#262626" >1153OAA</text>
<text x="321.47" y="309.50" font-size="9.88" textLength="30.37" lengthAdjust="spacingAndGlyphs" fill="#262626" >11375</text>
<text x="425.28" y="237.30" font-size="9.88" textLength="41.72" lengthAdjust="spacingAndGlyphs" fill="#262626" >1152OAA</text>
<text x="453.26" y="251.80" font-size="9.88" textLength="36.68" lengthAdjust="spacingAndGlyphs" fill="#262626" >1122OM</text>
<text x="521.11" y="266.20" font-size="9.74" textLength="34.50" lengthAdjust="spacingAndGlyphs" fill="#262626" >11215M</text>
<text x="409.31" y="330.40" font-size="9.88" textLength="34.29" lengthAdjust="spacingAndGlyphs" fill="#262626" >1152OA</text>
<text x="550.24" y="329.60" font-size="10.17" textLength="46.39" lengthAdjust="spacingAndGlyphs" fill="#262626" >R112OOO6</text>
<g transform="translate(97.8,287.2) rotate(-35)"><text x="-1.09" y="0.00" font-size="9.88" textLength="34.52" lengthAdjust="spacingAndGlyphs" fill="#262626" >FRONT</text></g>
</svg>
<div id="bar"></div>
<svg width="600" height="400" viewBox="0 0 600 400" style="position:absolute;left:0;top:0">
<text class="sans" x="69.39" y="370.30" font-size="22.24" textLength="82.21" lengthAdjust="spacingAndGlyphs" fill="#fff" >NISSAN</text>
<text class="sans" x="163.68" y="370.30" font-size="22.24" textLength="86.63" lengthAdjust="spacingAndGlyphs" fill="#fff" >INFINITI</text>
<text class="sans" x="267.52" y="370.30" font-size="22.24" textLength="131.09" lengthAdjust="spacingAndGlyphs" fill="#fff" >112104Z010</text>
<text class="sans" x="429.06" y="370.30" font-size="22.24" textLength="17.07" lengthAdjust="spacingAndGlyphs" fill="#fff" >N</text>
<text class="sans" x="463.78" y="370.30" font-size="22.24" textLength="66.56" lengthAdjust="spacingAndGlyphs" fill="#fff" >11220</text>
<rect x="256.1" y="362.2" width="5.6" height="1.8" fill="#fff"/>
<rect x="452.6" y="362.2" width="5" height="1.8" fill="#fff"/>
</svg>
</body></html>
